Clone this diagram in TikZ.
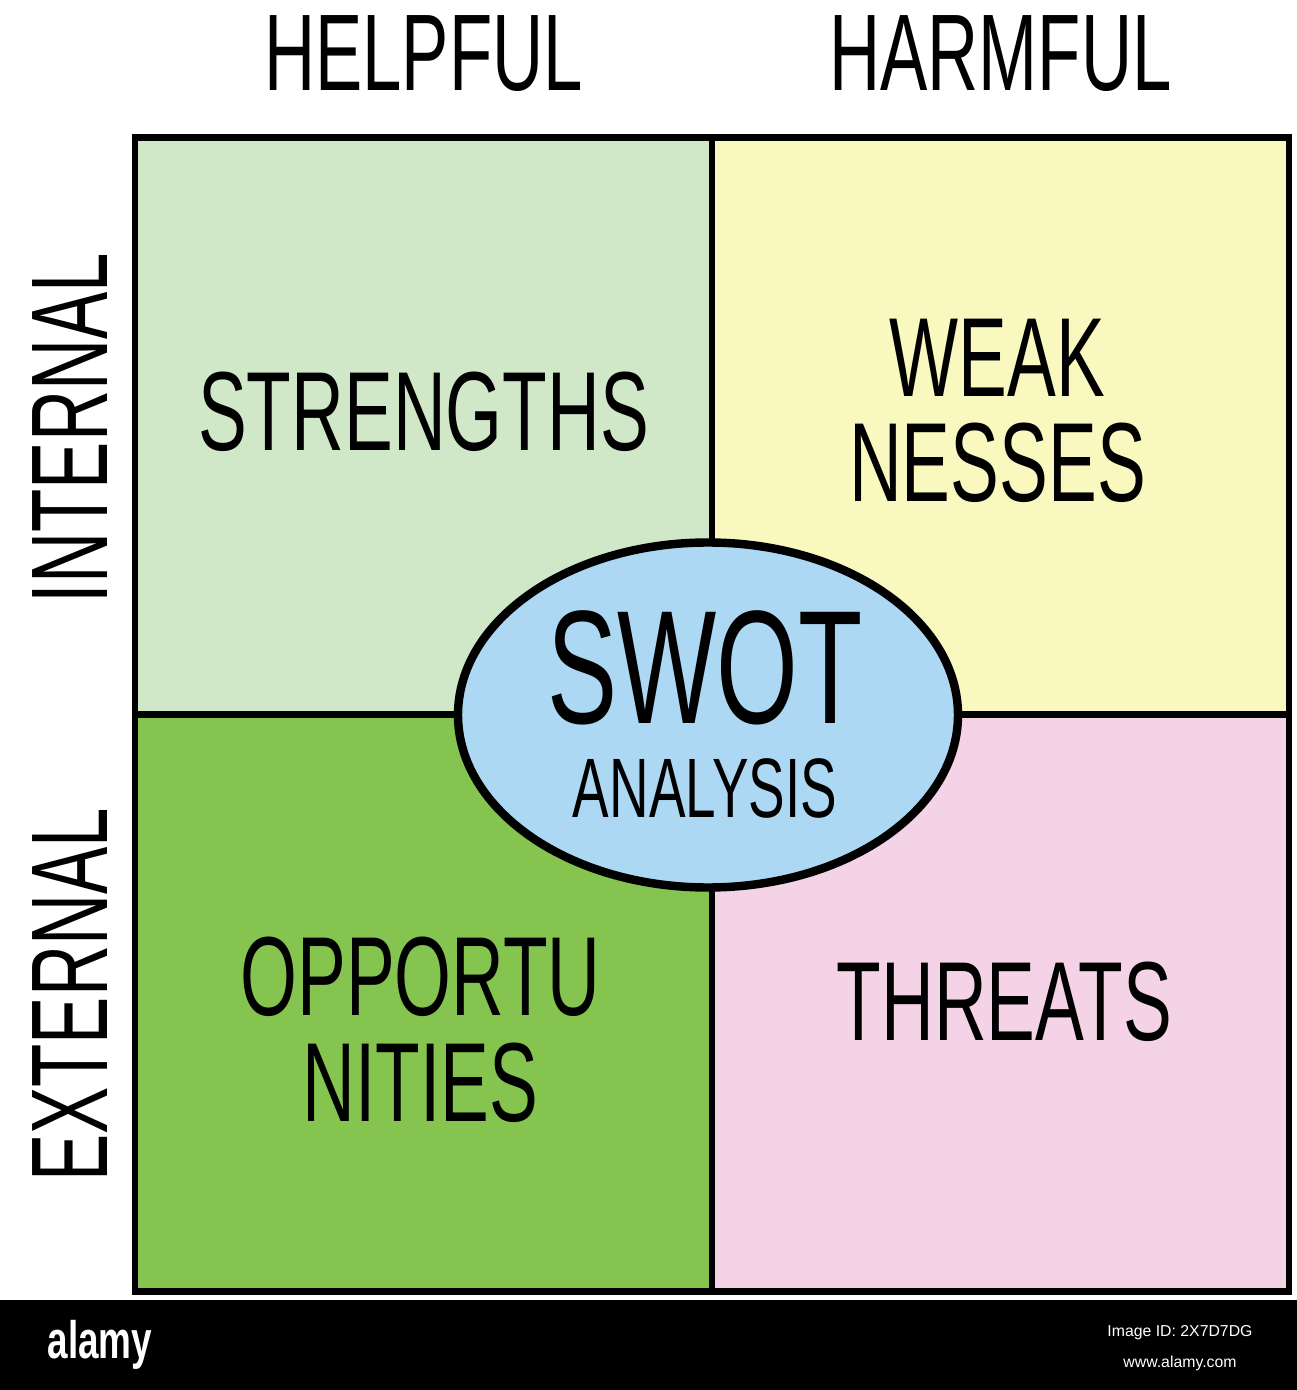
\documentclass[tikz,border=0pt]{standalone}
\usepackage{fontspec}
\usepackage{tikz}
\usetikzlibrary{shapes.geometric, positioning}
\newfontfamily\handfont[FakeStretch=0.65]{Liberation Sans}
\newfontfamily\logofont[FakeStretch=0.7]{Liberation Sans}
\definecolor{strcol}{HTML}{D0E7C8}
\definecolor{weacol}{HTML}{F9F8BE}
\definecolor{oppcol}{HTML}{84C44F}
\definecolor{thrcol}{HTML}{F4D3E6}
\definecolor{swotcol}{HTML}{ADD8F3}
\tikzstyle{quad} = [rectangle, 
minimum width=5.77cm, 
minimum height=5.77cm, 
inner sep=0pt,
line width=1.8pt,
draw=black]
\tikzstyle{textonly} = [rectangle, 
inner sep=0pt,
text centered, 
font=\handfont\fontsize{32}{30}\selectfont]
\tikzstyle{headtext} = [textonly, 
font=\handfont\fontsize{31}{32}\selectfont]

\begin{document}
\begin{tikzpicture}[node distance=5.77cm]
		\useasboundingbox (0,0) rectangle (12.97,13.90);
		\fill[white] (0,0) rectangle (12.97,13.90);
		% quadrants
		\node (str) [quad, fill=strcol] at (4.235,9.64) {};
		\node (wea) [quad, fill=weacol, right of=str] {};
		\node (opp) [quad, fill=oppcol, below of=str] {};
		\node (thr) [quad, fill=thrcol, right of=opp] {};
		\node (swot) [ellipse, fill=swotcol, draw=black, line width=2.4pt,
			minimum width=5.0cm, minimum height=3.45cm, inner sep=0pt] at (7.08,6.75) {};
		
		\node (strt) [textonly] at ([yshift=0.14cm]str.center) {STRENGTHS};
		\node (weat) [textonly, align=center] at ([xshift=-0.03cm,yshift=0.15cm]wea.center) {WEAK\\NESSES};
		\node (oppt) [textonly, align=center] at ([xshift=-0.03cm,yshift=-0.27cm]opp.center) {OPPORTU\\NITIES};
		\node (thrt) [textonly] at ([xshift=0.04cm,yshift=0.01cm]thr.center) {THREATS};
		\node (swt) [textonly, font=\handfont\fontsize{46}{48}\selectfont] at (7.05,7.22) {SWOT};
		\node (ana) [textonly, font=\handfont\fontsize{24}{26}\selectfont, below=0.32cm of swt] {ANALYSIS};
		
		\node (help) [headtext, above=0.42cm of str] {HELPFUL};
		\node (harm) [headtext, above=0.42cm of wea] {HARMFUL};
		\node (int) [headtext, rotate=90] at (0.70,9.62) {INTERNAL};
		\node (ext) [headtext, rotate=90] at (0.70,3.95) {EXTERNAL};
		
		% bottom bar
		\fill[black] (0,0) rectangle (12.97,0.90);
		\node (logo) [text=white, inner sep=0pt, font=\logofont\bfseries\fontsize{15}{16}\selectfont] at (1.0,0.45) {alamy};
		\node (imgid) [text=white, inner sep=0pt, font=\fontspec{Liberation Sans}\fontsize{4.5}{5}\selectfont] at (11.80,0.57) {Image ID: 2X7D7DG};
		\node (www) [text=white, inner sep=0pt, below=0.14cm of imgid, font=\fontspec{Liberation Sans}\fontsize{4.5}{5}\selectfont] {www.alamy.com};
	\end{tikzpicture}
\end{document}
